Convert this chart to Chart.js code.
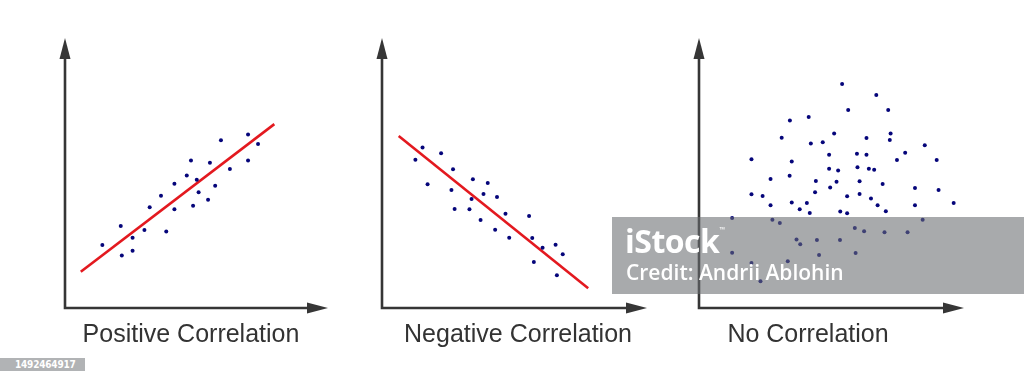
<!DOCTYPE html>
<html>
<head>
<meta charset="utf-8">
<script src="https://cdn.jsdelivr.net/npm/chart.js@4/dist/chart.umd.min.js"></script>
<style>
  html, body { margin: 0; padding: 0; background: #fff; }
  #wrap { position: relative; width: 1024px; height: 384px; overflow: hidden; }
  #wrap canvas { position: absolute; left: 0; top: 0; }
  .banner {
    position: absolute; left: 612px; top: 217px; width: 412px; height: 77px;
    background: rgba(105, 108, 112, 0.58);
    font-family: "Open Sans", "DejaVu Sans", sans-serif; color: #fff;
  }
  .banner .logo { position: absolute; left: 13px; top: 2px; font-size: 32px; font-weight: 700; letter-spacing: -0.5px; }
  .banner .logo sup { font-size: 7px; vertical-align: top; position: relative; top: 6px; }
  .banner .credit { position: absolute; left: 14px; top: 41px; font-size: 21px; font-weight: 600; }
  .tag {
    position: absolute; left: 0; top: 358px; width: 85px; height: 13px;
    background: #b1b3b5; color: #fff; font: bold 10px "DejaVu Sans Condensed", "DejaVu Sans", sans-serif;
    letter-spacing: -0.2px; line-height: 13px; padding-left: 15px; box-sizing: border-box;
  }
</style>
</head>
<body>
<div id="wrap">
  <canvas id="pos" width="1024" height="384"></canvas>
  <canvas id="neg" width="1024" height="384"></canvas>
  <canvas id="none" width="1024" height="384"></canvas>
  <div class="banner"><div class="logo">iStock<sup>™</sup></div><div class="credit">Credit: Andrii Ablohin</div></div>
  <div class="tag">1492464917</div>
</div>
<script>
// values, axis units 0..10
const posX = [1.42, 2.16, 2.12, 2.57, 2.57, 3.02, 3.22, 3.65, 3.85, 4.16, 4.16, 4.63, 4.79, 5.01, 5.08, 4.87, 5.44, 5.51, 5.71, 5.93, 6.27, 6.96, 6.96, 7.34];
const posY = [2.33, 1.94, 3.04, 2.60, 2.12, 2.89, 3.73, 4.16, 2.83, 4.60, 3.66, 4.91, 5.46, 4.75, 4.29, 3.79, 4.01, 5.38, 4.53, 6.21, 5.15, 6.43, 5.46, 6.07];
const posFitX = [0.60, 7.96];
const posFitY = [1.34, 6.81];

const negX = [1.53, 1.26, 2.23, 1.72, 2.68, 2.62, 2.74, 3.43, 3.38, 3.30, 3.83, 3.99, 3.72, 4.34, 4.66, 4.27, 4.80, 5.55, 5.67, 6.06, 5.73, 6.55, 6.82, 6.60];
const negY = [5.94, 5.49, 5.73, 4.58, 5.14, 4.37, 3.67, 4.77, 4.04, 3.66, 4.22, 4.63, 3.26, 4.11, 3.49, 2.90, 2.60, 3.41, 2.59, 2.23, 1.70, 2.34, 1.99, 1.21];
const negFitX = [0.63, 7.78];
const negFitY = [6.37, 0.73];

const noneX = [5.40, 6.69, 5.63, 7.14, 3.43, 4.14, 5.10, 7.23, 7.20, 3.12, 4.22, 4.67, 6.32, 1.98, 3.50, 4.91, 5.96, 6.32, 7.78, 8.52,
  7.47, 8.97, 4.91, 5.25, 5.98, 6.41, 6.61, 2.70, 3.42, 4.41, 5.19, 6.06, 6.93, 4.95, 8.15, 9.04, 1.98, 2.40, 4.38, 5.59,
  6.06, 6.49, 2.70, 3.50, 4.07, 3.80, 4.18, 5.33, 5.59, 6.74, 7.05, 8.15, 9.61, 1.25, 2.77, 3.05, 5.88, 6.23, 7.00, 7.87,
  8.44, 3.68, 3.82, 4.45, 5.32, 1.25, 1.98, 3.35, 4.53, 5.91, 2.32];
const noneY = [8.30, 7.89, 7.33, 7.33, 6.94, 7.07, 6.46, 6.46, 6.22, 6.31, 6.09, 6.14, 6.30, 5.51, 5.43, 5.68, 5.71, 5.68, 5.75, 6.03,
  5.48, 5.48, 5.16, 5.09, 5.21, 5.16, 5.12, 4.78, 4.90, 4.70, 4.68, 4.69, 4.59, 4.46, 4.44, 4.37, 4.21, 4.15, 4.29, 4.14,
  4.22, 4.06, 3.81, 3.91, 3.89, 3.66, 3.52, 3.57, 3.51, 3.81, 3.58, 3.81, 3.89, 3.33, 3.27, 3.15, 2.96, 2.84, 2.81, 2.81,
  3.27, 2.54, 2.36, 2.52, 2.52, 2.05, 1.67, 1.73, 1.96, 2.04, 0.99];

const captions = ["Positive Correlation", "Negative Correlation", "No Correlation"];

const toPoints = (xs, ys) => xs.map((x, i) => ({ x: x, y: ys[i] }));

// draws the two arrowed axes and the caption under them
const axesArrows = {
  id: "axesArrows",
  beforeDatasetsDraw(chart, args, opts) {
    const ctx = chart.ctx;
    const a = chart.chartArea;
    const head = 21, half = 5.5;
    ctx.save();
    ctx.strokeStyle = "#363636";
    ctx.fillStyle = "#363636";
    ctx.lineWidth = 2.6;
    ctx.beginPath();
    ctx.moveTo(a.left, a.top + head - 1);
    ctx.lineTo(a.left, a.bottom);
    ctx.lineTo(a.right - head + 1, a.bottom);
    ctx.stroke();
    ctx.beginPath();
    ctx.moveTo(a.left, a.top);
    ctx.lineTo(a.left - half, a.top + head);
    ctx.lineTo(a.left + half, a.top + head);
    ctx.closePath();
    ctx.fill();
    ctx.beginPath();
    ctx.moveTo(a.right, a.bottom);
    ctx.lineTo(a.right - head, a.bottom - half);
    ctx.lineTo(a.right - head, a.bottom + half);
    ctx.closePath();
    ctx.fill();
    ctx.restore();
  },
  afterDraw(chart, args, opts) {
    const ctx = chart.ctx;
    ctx.save();
    ctx.fillStyle = "#333";
    ctx.font = "25px 'Liberation Sans', Arial, sans-serif";
    ctx.textAlign = "center";
    ctx.textBaseline = "alphabetic";
    ctx.fillText(opts.text, opts.x, 342);
    ctx.restore();
  }
};

function makePanel(id, pts, fit, caption, frame) {
  return new Chart(document.getElementById(id), {
    type: "scatter",
    data: {
      datasets: [
        {
          data: fit,
          showLine: true,
          borderColor: "#e3191f",
          borderWidth: 2.6,
          pointRadius: 0,
          order: 2
        },
        {
          data: pts,
          backgroundColor: "#05057a",
          borderWidth: 0,
          pointRadius: 2,
          order: 1
        }
      ]
    },
    options: {
      responsive: false,
      animation: false,
      events: [],
      layout: { padding: { left: frame.left, right: 1024 - frame.right, top: 38, bottom: 384 - 308 } },
      scales: {
        x: { type: "linear", min: 0, max: 10, display: false },
        y: { type: "linear", min: 0, max: 10, display: false }
      },
      plugins: {
        legend: { display: false },
        tooltip: { enabled: false },
        axesArrows: { text: caption, x: frame.captionX }
      }
    },
    plugins: [axesArrows]
  });
}

makePanel("pos", toPoints(posX, posY), toPoints(posFitX, posFitY), captions[0], { left: 65, right: 328, captionX: 191 });
makePanel("neg", toPoints(negX, negY), toPoints(negFitX, negFitY), captions[1], { left: 382, right: 647, captionX: 518 });
makePanel("none", toPoints(noneX, noneY), [], captions[2], { left: 699, right: 964, captionX: 808 });
</script>
</body>
</html>
